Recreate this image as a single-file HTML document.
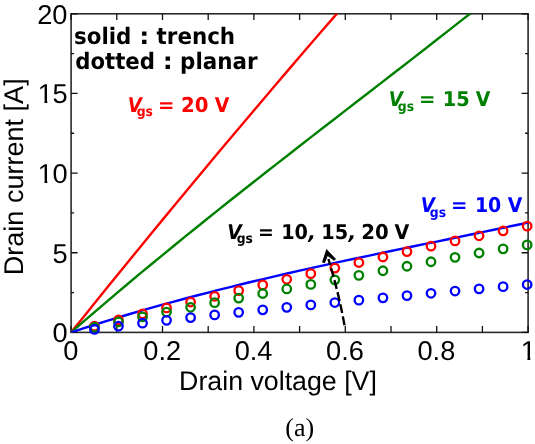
<!DOCTYPE html>
<html><head><meta charset="utf-8"><title>Drain current vs drain voltage</title>
<style>html,body{margin:0;padding:0;background:#fff}svg{display:block}</style></head>
<body>
<svg width="535" height="444" viewBox="0 0 535 444" text-rendering="geometricPrecision" role="img" aria-label="Drain current versus drain voltage">
<rect width="535" height="444" fill="#fff"/>
<defs><clipPath id="c"><rect x="71.10" y="13.80" width="457.00" height="318.60"/></clipPath></defs>
<rect x="71.10" y="13.80" width="457.00" height="318.60" fill="none" stroke="#2a2a2a" stroke-width="1.6"/>
<path d="M71.10,332.40 v-6.3 M71.10,13.80 v6.3 M116.80,332.40 v-6.3 M116.80,13.80 v6.3 M162.50,332.40 v-6.3 M162.50,13.80 v6.3 M208.20,332.40 v-6.3 M208.20,13.80 v6.3 M253.90,332.40 v-6.3 M253.90,13.80 v6.3 M299.60,332.40 v-6.3 M299.60,13.80 v6.3 M345.30,332.40 v-6.3 M345.30,13.80 v6.3 M391.00,332.40 v-6.3 M391.00,13.80 v6.3 M436.70,332.40 v-6.3 M436.70,13.80 v6.3 M482.40,332.40 v-6.3 M482.40,13.80 v6.3 M528.10,332.40 v-6.3 M528.10,13.80 v6.3 M71.10,332.40 h6.5 M528.10,332.40 h-6.5 M71.10,292.57 h3.0 M528.10,292.57 h-3.0 M71.10,252.75 h6.5 M528.10,252.75 h-6.5 M71.10,212.92 h3.0 M528.10,212.92 h-3.0 M71.10,173.10 h6.5 M528.10,173.10 h-6.5 M71.10,133.27 h3.0 M528.10,133.27 h-3.0 M71.10,93.45 h6.5 M528.10,93.45 h-6.5 M71.10,53.62 h3.0 M528.10,53.62 h-3.0 M71.10,13.80 h6.5 M528.10,13.80 h-6.5" stroke="#111" stroke-width="1.3" fill="none"/>
<g clip-path="url(#c)" fill="none" stroke-width="2.4">
<polyline stroke="#ff0000" points="71.10,332.40 82.52,318.17 93.95,303.98 105.38,289.84 116.80,275.75 128.22,261.71 139.65,247.72 151.07,233.77 162.50,219.87 173.93,206.02 185.35,192.22 196.78,178.46 208.20,164.75 219.62,151.09 231.05,137.48 242.47,123.92 253.90,110.40 265.33,96.93 276.75,83.51 288.18,70.14 299.60,56.81 311.02,43.53 322.45,30.30 333.88,17.12 345.30,3.99"/>
<polyline stroke="#008000" points="71.10,332.40 82.52,322.45 93.95,312.59 105.38,302.81 116.80,293.11 128.22,283.49 139.65,273.95 151.07,264.47 162.50,255.07 173.93,245.72 185.35,236.43 196.78,227.20 208.20,218.03 219.62,208.90 231.05,199.81 242.47,190.77 253.90,181.76 265.33,172.79 276.75,163.85 288.18,154.93 299.60,146.04 311.02,137.17 322.45,128.31 333.88,119.46 345.30,110.63 356.73,101.80 368.15,92.97 379.58,84.13 391.00,75.29 402.43,66.45 413.85,57.59 425.27,48.71 436.70,39.81 448.12,30.88 459.55,21.93 470.98,12.95"/>
<polyline stroke="#0000ff" points="71.10,332.40 82.52,328.66 93.95,325.00 105.38,321.43 116.80,317.93 128.22,314.52 139.65,311.18 151.07,307.91 162.50,304.70 173.93,301.57 185.35,298.50 196.78,295.49 208.20,292.54 219.62,289.64 231.05,286.80 242.47,284.01 253.90,281.26 265.33,278.56 276.75,275.90 288.18,273.28 299.60,270.70 311.02,268.15 322.45,265.63 333.88,263.14 345.30,260.68 356.73,258.24 368.15,255.82 379.58,253.42 391.00,251.03 402.43,248.66 413.85,246.29 425.27,243.93 436.70,241.58 448.12,239.22 459.55,236.87 470.98,234.51 482.40,232.15 493.83,229.77 505.25,227.38 516.68,224.98 528.10,222.56"/>
</g>
<g fill="none" stroke="#ff0000" stroke-width="2.3">
<circle cx="94.44" cy="326.24" r="4.25"/>
<circle cx="118.48" cy="319.95" r="4.25"/>
<circle cx="142.52" cy="313.85" r="4.25"/>
<circle cx="166.56" cy="307.89" r="4.25"/>
<circle cx="190.60" cy="302.04" r="4.25"/>
<circle cx="214.64" cy="296.28" r="4.25"/>
<circle cx="238.68" cy="290.57" r="4.25"/>
<circle cx="262.72" cy="284.91" r="4.25"/>
<circle cx="286.76" cy="279.28" r="4.25"/>
<circle cx="310.80" cy="273.67" r="4.25"/>
<circle cx="334.84" cy="268.09" r="4.25"/>
<circle cx="358.88" cy="262.53" r="4.25"/>
<circle cx="382.92" cy="257.02" r="4.25"/>
<circle cx="406.96" cy="251.57" r="4.25"/>
<circle cx="431.00" cy="246.19" r="4.25"/>
<circle cx="455.04" cy="240.93" r="4.25"/>
<circle cx="479.08" cy="235.80" r="4.25"/>
<circle cx="503.12" cy="230.85" r="4.25"/>
<circle cx="527.16" cy="226.13" r="4.25"/>
</g>
<g fill="none" stroke="#008000" stroke-width="2.3">
<circle cx="94.44" cy="327.21" r="4.25"/>
<circle cx="118.48" cy="321.95" r="4.25"/>
<circle cx="142.52" cy="316.91" r="4.25"/>
<circle cx="166.56" cy="312.04" r="4.25"/>
<circle cx="190.60" cy="307.30" r="4.25"/>
<circle cx="214.64" cy="302.65" r="4.25"/>
<circle cx="238.68" cy="298.06" r="4.25"/>
<circle cx="262.72" cy="293.50" r="4.25"/>
<circle cx="286.76" cy="288.95" r="4.25"/>
<circle cx="310.80" cy="284.41" r="4.25"/>
<circle cx="334.84" cy="279.86" r="4.25"/>
<circle cx="358.88" cy="275.31" r="4.25"/>
<circle cx="382.92" cy="270.76" r="4.25"/>
<circle cx="406.96" cy="266.24" r="4.25"/>
<circle cx="431.00" cy="261.75" r="4.25"/>
<circle cx="455.04" cy="257.34" r="4.25"/>
<circle cx="479.08" cy="253.02" r="4.25"/>
<circle cx="503.12" cy="248.86" r="4.25"/>
<circle cx="527.16" cy="244.88" r="4.25"/>
</g>
<g fill="none" stroke="#0000ff" stroke-width="2.3">
<circle cx="94.44" cy="329.38" r="4.25"/>
<circle cx="118.48" cy="326.20" r="4.25"/>
<circle cx="142.52" cy="323.19" r="4.25"/>
<circle cx="166.56" cy="320.31" r="4.25"/>
<circle cx="190.60" cy="317.56" r="4.25"/>
<circle cx="214.64" cy="314.90" r="4.25"/>
<circle cx="238.68" cy="312.32" r="4.25"/>
<circle cx="262.72" cy="309.81" r="4.25"/>
<circle cx="286.76" cy="307.35" r="4.25"/>
<circle cx="310.80" cy="304.93" r="4.25"/>
<circle cx="334.84" cy="302.55" r="4.25"/>
<circle cx="358.88" cy="300.19" r="4.25"/>
<circle cx="382.92" cy="297.86" r="4.25"/>
<circle cx="406.96" cy="295.56" r="4.25"/>
<circle cx="431.00" cy="293.28" r="4.25"/>
<circle cx="455.04" cy="291.03" r="4.25"/>
<circle cx="479.08" cy="288.81" r="4.25"/>
<circle cx="503.12" cy="286.64" r="4.25"/>
<circle cx="527.16" cy="284.53" r="4.25"/>
</g>
<path d="M344.5,325.2 Q338.5,292 328.4,259" fill="none" stroke="#000" stroke-width="2.4" stroke-dasharray="9,3.4"/>
<path d="M326.4,249.0 L322.0,262.3 L324.8,263.2 L327.7,256.0 L334.0,260.7 L336.0,259.0 Z" fill="#000"/>
<g font-family="'Liberation Sans', Arial, sans-serif" font-size="27.2" fill="#000">
<text x="70.80" y="360.2" text-anchor="middle">0</text>
<text x="162.20" y="360.2" text-anchor="middle">0.2</text>
<text x="253.60" y="360.2" text-anchor="middle">0.4</text>
<text x="345.00" y="360.2" text-anchor="middle">0.6</text>
<text x="436.40" y="360.2" text-anchor="middle">0.8</text>
<text x="520.84" y="360.2" clip-path="url(#k1)">1</text>
<text x="67.5" y="342.15" text-anchor="end">0</text>
<text x="67.5" y="262.50" text-anchor="end">5</text>
<text x="37.85" y="182.85" clip-path="url(#k10)"><tspan>1</tspan><tspan dx="-0.6">0</tspan></text>
<text x="37.85" y="103.20" clip-path="url(#k15)"><tspan>1</tspan><tspan dx="-0.6">5</tspan></text>
<text x="67.5" y="23.55" text-anchor="end">20</text>
</g>
<defs><clipPath id="k1"><rect x="518.84" y="333.00" width="80" height="24.21"/><rect x="527.45" y="356.94" width="2.83" height="4.26"/><rect x="535.25" y="356.94" width="60" height="10.88"/></clipPath><clipPath id="k10"><rect x="35.85" y="155.65" width="80" height="24.21"/><rect x="44.46" y="179.59" width="2.83" height="4.26"/><rect x="52.27" y="179.59" width="60" height="10.88"/></clipPath><clipPath id="k15"><rect x="35.85" y="76.00" width="80" height="24.21"/><rect x="44.46" y="99.94" width="2.83" height="4.26"/><rect x="52.27" y="99.94" width="60" height="10.88"/></clipPath></defs>
<g font-family="'Liberation Sans', Arial, sans-serif" font-size="26.75" fill="#000">
<text x="278" y="389.6" text-anchor="middle">Drain voltage [V]</text>
<text transform="translate(23.2,176.8) rotate(-90)" text-anchor="middle" font-size="27.05">Drain current [A]</text>
</g>
<g font-family="'DejaVu Sans', Verdana, sans-serif" font-weight="bold">
<text transform="translate(74.03,43.90) scale(0.9379,1)" font-size="22.8" fill="#000">solid</text>
<text transform="translate(139.15,43.90) scale(1.1000,1)" font-size="22.8" fill="#000">:</text>
<text transform="translate(156.57,43.90) scale(0.9399,1)" font-size="22.8" fill="#000">trench</text>
<text transform="translate(75.27,69.20) scale(0.9317,1)" font-size="22.8" fill="#000">dotted</text>
<text transform="translate(162.65,69.20) scale(1.1000,1)" font-size="22.8" fill="#000">:</text>
<text transform="translate(180.12,69.20) scale(0.9408,1)" font-size="22.8" fill="#000">planar</text>
<text transform="translate(127.65,111.80) scale(0.8968,1)" font-size="20.4" font-style="italic" fill="#ff0000">V</text>
<text transform="translate(136.64,116.10) scale(0.9134,1)" font-size="13.6" fill="#ff0000">gs</text>
<text transform="translate(157.93,111.80) scale(0.9647,1)" font-size="20.4" fill="#ff0000">=</text>
<text transform="translate(180.95,111.80) scale(0.9692,1)" font-size="20.4" fill="#ff0000">20</text>
<text transform="translate(214.67,111.80) scale(0.9246,1)" font-size="20.4" fill="#ff0000">V</text>
<text transform="translate(388.75,106.40) scale(0.8968,1)" font-size="20.4" font-style="italic" fill="#008000">V</text>
<text transform="translate(397.74,110.70) scale(0.9134,1)" font-size="13.6" fill="#008000">gs</text>
<text transform="translate(419.03,106.40) scale(0.9647,1)" font-size="20.4" fill="#008000">=</text>
<text transform="translate(442.86,106.40) scale(0.9495,1)" font-size="20.4" fill="#008000">15</text>
<text transform="translate(475.77,106.40) scale(0.9246,1)" font-size="20.4" fill="#008000">V</text>
<text transform="translate(420.75,212.40) scale(0.8968,1)" font-size="20.4" font-style="italic" fill="#0000ff">V</text>
<text transform="translate(429.74,216.70) scale(0.9134,1)" font-size="13.6" fill="#0000ff">gs</text>
<text transform="translate(451.03,212.40) scale(0.9647,1)" font-size="20.4" fill="#0000ff">=</text>
<text transform="translate(474.91,212.40) scale(0.9307,1)" font-size="20.4" fill="#0000ff">10</text>
<text transform="translate(507.77,212.40) scale(0.9246,1)" font-size="20.4" fill="#0000ff">V</text>
<text transform="translate(227.33,239.00) scale(0.9161,1)" font-size="20.4" font-style="italic" fill="#000">V</text>
<text transform="translate(236.75,243.40) scale(0.9075,1)" font-size="13.6" fill="#000">gs</text>
<text transform="translate(258.02,239.00) scale(0.9255,1)" font-size="20.4" fill="#000">=</text>
<text transform="translate(281.17,239.00) scale(0.9465,1)" font-size="20.4" fill="#000">10</text>
<text transform="translate(308.33,239.00) scale(1.0000,1)" font-size="20.4" font-style="italic" fill="#000">,</text>
<text transform="translate(321.26,239.00) scale(0.9495,1)" font-size="20.4" fill="#000">15</text>
<text transform="translate(348.48,239.00) scale(1.0000,1)" font-size="20.4" font-style="italic" fill="#000">,</text>
<text transform="translate(361.15,239.00) scale(0.9692,1)" font-size="20.4" fill="#000">20</text>
<text transform="translate(394.57,239.00) scale(0.9377,1)" font-size="20.4" fill="#000">V</text>
</g>
<text x="299.75" y="436.2" text-anchor="middle" font-family="'Liberation Serif', 'Times New Roman', serif" font-size="26" fill="#000">(a)</text>
</svg>
</body></html>
